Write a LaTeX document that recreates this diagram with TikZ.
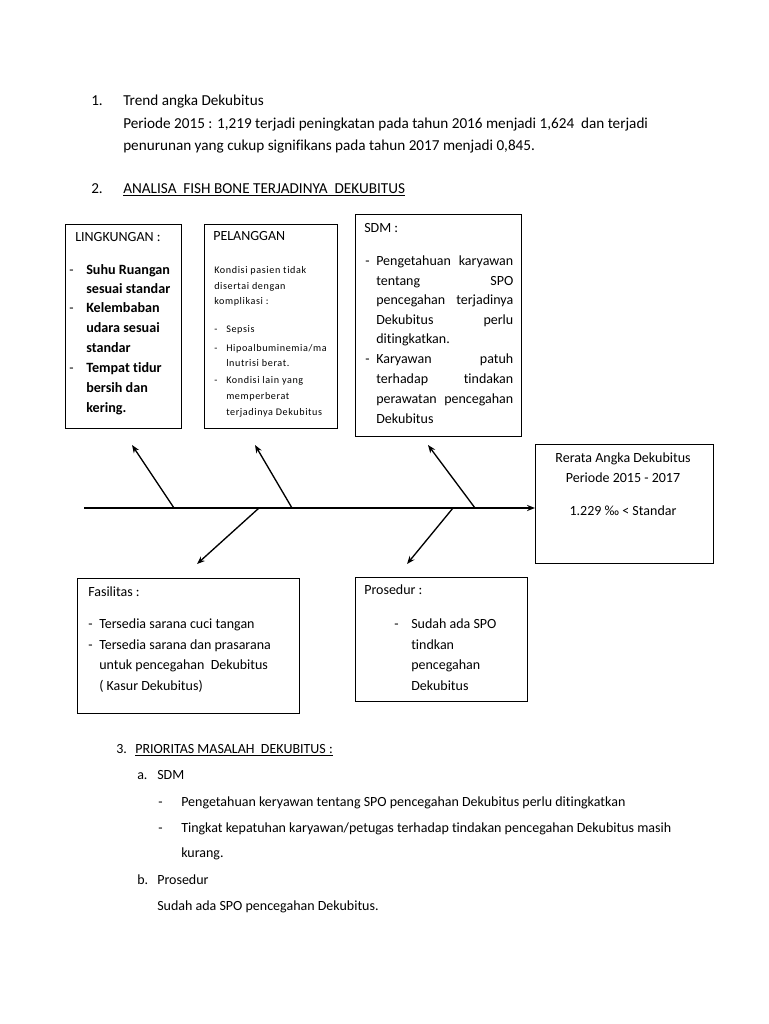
\documentclass[tikz,border=0pt]{standalone}
\usepackage{fontspec}
\setmainfont[Ligatures=CommonOff]{Carlito}
\newfontfamily\smallspaced[LetterSpace=6,Ligatures=CommonOff]{Carlito}
\usetikzlibrary{arrows.meta,positioning}

\tikzset{
  txt/.style={anchor=mid west, inner sep=0pt, font=\fontsize{10.5}{12}\selectfont},
  toptxt/.style={txt, font=\fontsize{11.4}{13}\selectfont},
  txtc/.style={txt, anchor=mid},
  bigtxt/.style={txt, font=\fontsize{10.6}{12}\selectfont\bfseries},
  smalltxt/.style={txt, font=\fontsize{7.6}{9}\selectfont\smallspaced},
  boxframe/.style={draw, line width=0.9pt, inner sep=0pt, anchor=north west},
  bone/.style={line width=1pt, -{Stealth[length=6pt,width=4.6pt]}},
}
\newcommand{\jline}[1]{\makebox[102.75pt][s]{#1}}

\begin{document}
\begin{tikzpicture}[x=0.75pt,y=-0.75pt]
	\fill[white] (0,0) rectangle (768,1024);
	\useasboundingbox (0,0) rectangle (768,1024);

	% point 1 and 2
	\node[toptxt] (num1) at (91,102) {1.};
	\node[toptxt] (trend) at (123,102) {Trend angka Dekubitus};
	\node[toptxt] (periode) at (123,125) {Periode 2015 : 1,219 terjadi peningkatan pada tahun 2016 menjadi 1,624\ \ dan terjadi};
	\node[toptxt] (turun) at (123,147) {penurunan yang cukup signifikans pada tahun 2017 menjadi 0,845.};
	\node[toptxt] (num2) at (91,190) {2.};
	\node[toptxt] (judul) at (123,190) {\underline{ANALISA\ \ FISH BONE TERJADINYA\ \ DEKUBITUS}};

	% boxes
	\node[boxframe, minimum width=87pt, minimum height=153pt] (lingkungan) at (65,224) {};
	\node[boxframe, minimum width=99.75pt, minimum height=153pt] (pelanggan) at (204,224) {};
	\node[boxframe, minimum width=124.5pt, minimum height=166.5pt] (sdm) at (355,214) {};
	\node[boxframe, minimum width=133.5pt, minimum height=89.25pt] (rerata) at (535,444) {};
	\node[boxframe, minimum width=166.5pt, minimum height=101.25pt] (fasilitas) at (77,578) {};
	\node[boxframe, minimum width=129pt, minimum height=93pt] (prosedur) at (355,577) {};

	% lingkungan
	\node[txt] (lingtitle) at (75,238) {LINGKUNGAN :};
	\foreach \y in {271,309,369} {
		\node[txt] (lingdash-\y) at (69,\y) {-};
	}
	\foreach \y/\t in {271/Suhu Ruangan, 290/sesuai standar, 309/Kelembaban, 329/udara sesuai,
		349/standar, 369/Tempat tidur, 389/bersih dan, 409/kering.} {
		\node[bigtxt] (ling-\y) at (86,\y) {\t};
	}

	% pelanggan
	\node[txt] (peltitle) at (213,237) {PELANGGAN};
	\foreach \y/\t in {270/Kondisi pasien tidak, 286/disertai dengan, 301/komplikasi :} {
		\node[smalltxt] (pel-\y) at (214,\y) {\t};
	}
	\foreach \y in {329,348,380} {
		\node[smalltxt] (peldash-\y) at (214,\y) {-};
	}
	\foreach \y/\t in {329/Sepsis, 348/{Hipoalbuminemia/ma}, 363/lnutrisi berat., 380/Kondisi lain yang,
		396/memperberat, 412/terjadinya Dekubitus} {
		\node[smalltxt] (pelitem-\y) at (226,\y) {\t};
	}

	% sdm
	\node[txt] (sdmtitle) at (364,229) {SDM :};
	\foreach \y in {262,360} {
		\node[txt] (sdmdash-\y) at (365,\y) {-};
	}
	\foreach \y/\t in {262/Pengetahuan karyawan, 282/tentang SPO, 301/pencegahan terjadinya,
		321/Dekubitus perlu, 360/Karyawan patuh, 380/terhadap tindakan, 400/perawatan pencegahan} {
		\node[txt] (sdmitem-\y) at (376,\y) {\jline{\t}};
	}
	\node[txt] (sdmitem-340) at (376,340) {ditingkatkan.};
	\node[txt] (sdmitem-420) at (376,420) {Dekubitus};

	% rerata
	\node[txtc] (rer1) at (623,459) {Rerata Angka Dekubitus};
	\node[txtc] (rer2) at (623,479) {Periode 2015 - 2017};
	\node[txtc] (rer3) at (623,512) {1.229 ‰ < Standar};

	% fasilitas
	\node[txt] (fastitle) at (88,593) {Fasilitas :};
	\foreach \y in {625,646} {
		\node[txt] (fasdash-\y) at (88,\y) {-};
	}
	\foreach \y/\t in {625/Tersedia sarana cuci tangan, 646/Tersedia sarana dan prasarana,
		666/untuk pencegahan\ \ Dekubitus, 687/( Kasur Dekubitus)} {
		\node[txt] (fasitem-\y) at (99,\y) {\t};
	}

	% prosedur
	\node[txt] (prostitle) at (364,591) {Prosedur :};
	\node[txt] (prosdash) at (394,625) {-};
	\foreach \y/\t in {625/Sudah ada SPO, 646/tindkan, 666/pencegahan, 687/Dekubitus} {
		\node[txt] (prositem-\y) at (411,\y) {\t};
	}

	% fish bone
	\coordinate (tail) at (84,508);
	\draw[bone] (tail) -- (tail -| rerata.west);
	\foreach \n/\xs/\xe in {1/174/132, 2/292/255, 3/475/428} {
		\coordinate (up\n-s) at (\xs,508);
		\coordinate (up\n-e) at (\xe,445);
		\draw[bone] (up\n-s) -- (up\n-e);
	}
	\foreach \n/\xs/\xe in {1/259/197, 2/453/407} {
		\coordinate (down\n-s) at (\xs,508);
		\coordinate (down\n-e) at (\xe,564);
		\draw[bone] (down\n-s) -- (down\n-e);
	}

	% point 3
	\node[txt] (num3) at (116,750) {3.};
	\node[txt] (prior) at (135,750) {\underline{PRIORITAS MASALAH\ \ DEKUBITUS :}};
	\node[txt] (suba) at (137,776) {a.};
	\node[txt] (subasdm) at (157,776) {SDM};
	\node[txt] (dash1) at (158,803) {-};
	\node[txt] (item1) at (181,803) {Pengetahuan keryawan tentang SPO pencegahan Dekubitus perlu ditingkatkan};
	\node[txt] (dash2) at (158,829) {-};
	\node[txt] (item2) at (181,829) {Tingkat kepatuhan karyawan/petugas terhadap tindakan pencegahan Dekubitus masih};
	\node[txt] (item2b) at (181,854) {kurang.};
	\node[txt] (subb) at (137,881) {b.};
	\node[txt] (subbpros) at (157,881) {Prosedur};
	\node[txt] (sudah) at (157,907) {Sudah ada SPO pencegahan Dekubitus.};
\end{tikzpicture}
\end{document}
